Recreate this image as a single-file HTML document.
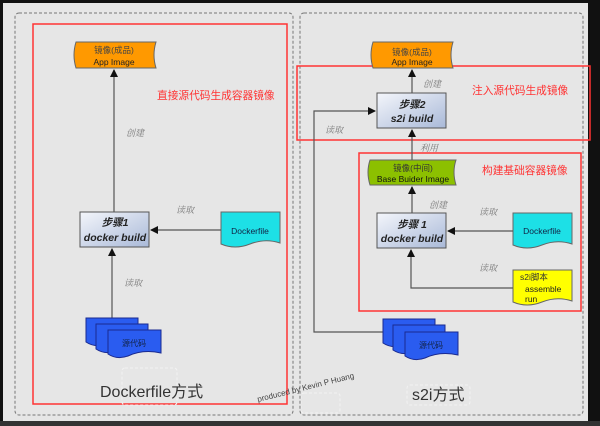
<!DOCTYPE html>
<html><head><meta charset="utf-8"><style>
html,body{margin:0;padding:0;background:#111;}
svg{display:block}
text{font-family:"Liberation Sans","Noto Sans CJK SC",sans-serif;}
.lbl{font-size:9px;fill:#777;font-style:italic;font-family:"Liberation Serif","Noto Serif CJK SC",serif;}
.red{font-size:10.7px;fill:#f33;}
.box{fill:url(#g);stroke:#555;stroke-width:1}
.bt{font-size:10.5px;font-weight:bold;font-style:italic;fill:#222;text-anchor:middle}
.ln{stroke:#555;stroke-width:1.2;fill:none}
</style></head><body>
<svg width="600" height="426" viewBox="0 0 600 426" xmlns="http://www.w3.org/2000/svg">
<defs>
<linearGradient id="g" x1="0" y1="0" x2="1" y2="1"><stop offset="0" stop-color="#f4f6fb"/><stop offset="1" stop-color="#a9b9d8"/></linearGradient>
<marker id="a" markerWidth="8" markerHeight="8" refX="7" refY="4" orient="auto" markerUnits="userSpaceOnUse"><path d="M0,0 L8,4 L0,8 Z" fill="#111"/></marker>
</defs>
<rect x="3" y="3" width="585" height="418" fill="#e6e6e6"/>
<rect x="0" y="421" width="600" height="5" fill="#333"/>
<!-- panels -->
<rect x="15" y="13" width="278" height="402" rx="4" fill="none" stroke="#777" stroke-dasharray="3,2"/>
<rect x="300" y="13" width="283" height="402" rx="4" fill="none" stroke="#777" stroke-dasharray="3,2"/>
<rect x="33" y="24" width="254" height="380" fill="none" stroke="#f33" stroke-width="1.5"/>
<!-- left -->
<path d="M76,42 H156 Q152,55 156,68 H76 Q72,55 76,42Z" fill="#f90" stroke="#666"/>
<text x="114" y="53" font-size="8.5" text-anchor="middle" fill="#444">镜像(成品)</text>
<text x="114" y="65" font-size="8.5" text-anchor="middle" fill="#222">App Image</text>
<line class="ln" x1="114" y1="212" x2="114" y2="70" marker-end="url(#a)"/>
<text class="lbl" x="126" y="136">创建</text>
<text class="red" x="157" y="99">直接源代码生成容器镜像</text>
<rect class="box" x="80" y="212" width="69" height="35"/>
<text class="bt" x="115" y="226">步骤1</text>
<text class="bt" x="115" y="241">docker build</text>
<path d="M221,212 H280 V243 Q265,238 250,244 Q235,250 221,244Z" fill="#1de0e6" stroke="#666"/>
<text x="250" y="234" font-size="8.5" text-anchor="middle" fill="#124">Dockerfile</text>
<line class="ln" x1="221" y1="230" x2="151" y2="230" marker-end="url(#a)"/>
<text class="lbl" x="176" y="213">读取</text>
<line class="ln" x1="112" y1="318" x2="112" y2="249" marker-end="url(#a)"/>
<text class="lbl" x="124" y="286">读取</text>
<path d="M86,318 H138 V340 Q120,336 106,344 Q95,348 86,342Z" fill="#2a5cf0" stroke="#1a2a90"/>
<path d="M96,324 H148 V347 Q130,343 116,351 Q105,355 96,349Z" fill="#2a5cf0" stroke="#1a2a90"/>
<path d="M108,330 H161 V353 Q143,349 128,356 Q117,360 108,354Z" fill="#2a5cf0" stroke="#1a2a90"/>
<text x="134" y="346" font-size="8" text-anchor="middle" fill="#124">源代码</text>
<rect x="122" y="368" width="55" height="37" rx="3" fill="none" stroke="#f2f2f2" stroke-dasharray="3,2"/>
<text x="100" y="397" font-size="16" fill="#333">Dockerfile方式</text>
<text x="258" y="402" font-size="8" fill="#444" transform="rotate(-14 258 402)">produced by Kevin P Huang</text>
<!-- right -->
<rect x="297" y="66" width="293" height="74" fill="none" stroke="#f33" stroke-width="1.5"/>
<rect x="359" y="153" width="222" height="158" fill="none" stroke="#f33" stroke-width="1.5"/>
<path d="M373,42 H453 Q449,55 453,68 H373 Q369,55 373,42Z" fill="#f90" stroke="#666"/>
<text x="412" y="55" font-size="8.5" text-anchor="middle" fill="#444">镜像(成品)</text>
<text x="412" y="65" font-size="8.5" text-anchor="middle" fill="#222">App Image</text>
<line class="ln" x1="412" y1="93" x2="412" y2="70" marker-end="url(#a)"/>
<text class="lbl" x="423" y="87">创建</text>
<text class="red" x="472" y="94">注入源代码生成镜像</text>
<rect class="box" x="377" y="93" width="69" height="35"/>
<text class="bt" x="412" y="108">步骤2</text>
<text class="bt" x="412" y="122">s2i build</text>
<line class="ln" x1="412" y1="160" x2="412" y2="130" marker-end="url(#a)"/>
<text class="lbl" x="420" y="151">利用</text>
<text class="red" x="482" y="174">构建基础容器镜像</text>
<path d="M370,160 H456 Q452,172 456,185 H370 Q366,172 370,160Z" fill="#8cc000" stroke="#666"/>
<text x="413" y="171" font-size="8.5" text-anchor="middle" fill="#333">镜像(中间)</text>
<text x="413" y="182" font-size="8.5" text-anchor="middle" fill="#111">Base Buider Image</text>
<line class="ln" x1="412" y1="213" x2="412" y2="187" marker-end="url(#a)"/>
<text class="lbl" x="429" y="208">创建</text>
<rect class="box" x="377" y="213" width="69" height="35"/>
<text class="bt" x="412" y="228">步骤 1</text>
<text class="bt" x="412" y="242">docker build</text>
<path d="M513,213 H572 V244 Q557,239 542,245 Q527,251 513,245Z" fill="#1de0e6" stroke="#666"/>
<text x="542" y="234" font-size="8.5" text-anchor="middle" fill="#124">Dockerfile</text>
<line class="ln" x1="513" y1="231" x2="448" y2="231" marker-end="url(#a)"/>
<text class="lbl" x="479" y="215">读取</text>
<path d="M513,270 H572 V301 Q557,296 542,302 Q527,308 513,302Z" fill="#ff0" stroke="#666"/>
<text x="520" y="280" font-size="8.5" fill="#333">s2i脚本</text>
<text x="525" y="292" font-size="8.5" fill="#222">assemble</text>
<text x="525" y="302" font-size="8.5" fill="#222">run</text>
<polyline class="ln" points="513,288 411,288 411,250" marker-end="url(#a)"/>
<text class="lbl" x="479" y="271">读取</text>
<polyline class="ln" points="383,332 314,332 314,111 375,111" marker-end="url(#a)"/>
<text class="lbl" x="325" y="133">读取</text>
<path d="M383,319 H435 V341 Q417,337 403,345 Q392,349 383,343Z" fill="#2a5cf0" stroke="#1a2a90"/>
<path d="M393,325 H445 V348 Q427,344 413,352 Q402,356 393,350Z" fill="#2a5cf0" stroke="#1a2a90"/>
<path d="M405,332 H458 V355 Q440,351 425,358 Q414,362 405,356Z" fill="#2a5cf0" stroke="#1a2a90"/>
<text x="431" y="348" font-size="8" text-anchor="middle" fill="#124">源代码</text>
<rect x="407" y="385" width="63" height="20" rx="3" fill="none" stroke="#f2f2f2" stroke-dasharray="3,2"/>
<rect x="301" y="393" width="39" height="20" rx="3" fill="none" stroke="#f2f2f2" stroke-dasharray="3,2"/>
<text x="412" y="400" font-size="16" fill="#333">s2i方式</text>
</svg>
</body></html>
